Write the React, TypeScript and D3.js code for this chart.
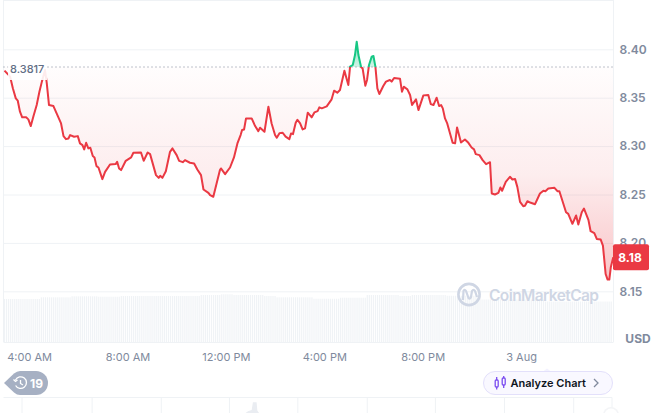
import React, { useEffect, useRef } from "react";
import * as d3 from "d3";

// hours since midnight of 2 Aug
const hours = [
  3.0, 3.23, 3.34, 3.46, 3.54, 3.63, 3.72, 3.88, 3.97, 4.07, 4.18, 4.31, 4.42, 4.52, 4.65, 4.72, 4.81, 4.99, 5.12, 5.3,
  5.4, 5.5, 5.6, 5.67, 5.83, 5.98, 6.07, 6.17, 6.24, 6.32, 6.41, 6.49, 6.59, 6.66, 6.74, 6.82, 6.98, 7.09, 7.29, 7.52,
  7.58, 7.66, 7.74, 7.93, 8.15, 8.24, 8.55, 8.66, 8.82, 8.92, 9.16, 9.27, 9.33, 9.42, 9.56, 9.73, 9.83, 10.0, 10.1, 10.25,
  10.34, 10.54, 10.71, 10.84, 10.99, 11.09, 11.29, 11.36, 11.49, 11.76, 11.8, 11.97, 12.17, 12.33, 12.47, 12.6, 12.66, 12.74, 12.82, 13.05,
  13.19, 13.32, 13.39, 13.57, 13.73, 13.86, 14.0, 14.07, 14.18, 14.31, 14.43, 14.58, 14.65, 14.73, 14.84, 14.91, 15.02, 15.12, 15.22, 15.33,
  15.49, 15.6, 15.73, 15.8, 15.9, 16.1, 16.3, 16.4, 16.53, 16.64, 16.82, 16.98, 17.05, 17.16, 17.25, 17.32, 17.39, 17.5, 17.56, 17.67,
  17.74, 17.82, 17.93, 18.0, 18.08, 18.16, 18.24, 18.4, 18.51, 18.67, 18.74, 18.84, 19.08, 19.16, 19.24, 19.38, 19.49, 19.57, 19.73, 19.83,
  20.03, 20.23, 20.33, 20.44, 20.57, 20.67, 20.75, 20.82, 20.91, 21.0, 21.22, 21.32, 21.4, 21.56, 21.72, 21.86, 21.99, 22.09, 22.16, 22.31,
  22.44, 22.58, 22.74, 22.81, 22.94, 23.08, 23.16, 23.23, 23.38, 23.55, 23.65, 23.76, 23.85, 23.96, 24.09, 24.16, 24.26, 24.37, 24.57, 24.77,
  24.91, 24.99, 25.11, 25.36, 25.48, 25.56, 25.83, 25.92, 26.09, 26.24, 26.33, 26.47, 26.56, 26.74, 26.83, 26.98, 27.08, 27.24, 27.33, 27.44,
  27.52, 27.59, 27.65, 27.75,
];

const prices = [
  8.378, 8.3717, 8.3597, 8.3493, 8.3469, 8.3355, 8.3297, 8.3297, 8.3276, 8.3207, 8.331, 8.3424, 8.3562, 8.3666, 8.3786, 8.3648, 8.3424, 8.3414, 8.3338, 8.3234,
  8.3103, 8.3072, 8.3079, 8.3114, 8.3097, 8.3103, 8.3028, 8.301, 8.2966, 8.3034, 8.2976, 8.2983, 8.2897, 8.2883, 8.2793, 8.2779, 8.2659, 8.2734, 8.281, 8.2814,
  8.2838, 8.2769, 8.2752, 8.2848, 8.2883, 8.2931, 8.2934, 8.2848, 8.2934, 8.2917, 8.27, 8.2672, 8.2693, 8.2672, 8.2741, 8.2941, 8.2976, 8.2907, 8.2848, 8.2834,
  8.2855, 8.2828, 8.2821, 8.2759, 8.27, 8.2552, 8.2517, 8.2493, 8.2476, 8.2752, 8.2769, 8.271, 8.2779, 8.2883, 8.3028, 8.3114, 8.3166, 8.3172, 8.3286, 8.3286,
  8.3207, 8.3155, 8.319, 8.3148, 8.3407, 8.3234, 8.3114, 8.3086, 8.3134, 8.3138, 8.3097, 8.3072, 8.3131, 8.3124, 8.3241, 8.3272, 8.3234, 8.3172, 8.3183, 8.3345,
  8.3297, 8.3348, 8.3362, 8.34, 8.339, 8.341, 8.3483, 8.3572, 8.3552, 8.3579, 8.3779, 8.3631, 8.3821, 8.3838, 8.3941, 8.4079, 8.3941, 8.3814, 8.3803, 8.3624,
  8.3683, 8.3838, 8.3924, 8.3931, 8.3821, 8.3597, 8.3538, 8.3621, 8.3666, 8.3683, 8.3666, 8.3703, 8.3697, 8.3562, 8.3614, 8.3586, 8.3528, 8.3424, 8.3483, 8.3372,
  8.3524, 8.3528, 8.3434, 8.3424, 8.35, 8.3414, 8.3424, 8.339, 8.3286, 8.3234, 8.3034, 8.3028, 8.3193, 8.3038, 8.3069, 8.3034, 8.2986, 8.2966, 8.2917, 8.2907,
  8.2855, 8.2814, 8.2834, 8.251, 8.25, 8.2517, 8.2572, 8.2538, 8.2631, 8.2683, 8.2655, 8.2659, 8.2579, 8.2424, 8.2379, 8.2383, 8.2431, 8.2417, 8.24, 8.251,
  8.2538, 8.2534, 8.2562, 8.2569, 8.2534, 8.2534, 8.2317, 8.23, 8.2197, 8.2283, 8.219, 8.2317, 8.2355, 8.2238, 8.2121, 8.21, 8.2041, 8.2034, 8.1972, 8.1679,
  8.1621, 8.1621, 8.1748, 8.1852,
];

// one bar every five minutes, from the first price on
const volumes = [
  43, 43, 43, 43, 43, 43, 43, 43, 43, 43, 43, 43,
  43, 43, 43, 43, 43, 43, 44.7, 44.7, 44.7, 44.7, 44.7, 44.7,
  44.7, 44.7, 44.7, 44.7, 44.7, 44.7, 44.7, 44.7, 44.7, 45.7, 45.7, 45.7,
  45.7, 45.7, 45.7, 45.7, 45.7, 45.7, 45.7, 45.7, 45.7, 45.7, 45.3, 45.3,
  45.3, 45.3, 45.3, 45.3, 45.3, 45.3, 45.3, 45.3, 45.3, 46, 46, 46,
  46, 46, 46, 46, 46, 46, 46, 46, 46, 46, 46, 46,
  46, 46, 46, 46, 46, 46, 46, 46, 46, 46, 46, 46,
  46, 46, 46, 46, 46, 46, 46, 46, 46, 46, 46, 46,
  47, 47, 47, 47, 47, 47, 47, 47, 47, 47, 47.7, 47.7,
  47.7, 47.7, 47.7, 47.7, 47, 47, 47, 47, 47, 47, 47, 47,
  47, 47, 47, 47, 47, 47, 47, 46, 46, 46, 46, 46,
  46, 44.7, 44.7, 44.7, 44.7, 44.7, 44.7, 44.7, 44.7, 44.7, 44.7, 44.7,
  44.7, 44.7, 44.7, 44.7, 44.7, 44.7, 44.7, 43.3, 43.3, 43.3, 43.3, 43.3,
  43.3, 43.3, 43.3, 43.3, 43.3, 43.3, 43.3, 43.3, 44.3, 44.3, 44.3, 44.3,
  44.3, 44.3, 44.3, 44.3, 44.3, 44.3, 44.3, 44.3, 44.3, 47, 47, 47,
  47, 47, 47, 47, 47, 47, 47, 47, 47, 47, 47, 47,
  47, 46, 46, 46, 46, 46, 46, 47, 47, 47, 47, 47,
  47, 47, 47, 47, 47, 47, 47, 47, 47, 47, 47, 47,
  46.3, 46.3, 46.3, 46.3, 46.3, 46.3, 46.3, 46.3, 46.3, 46.3, 46.3, 46.3,
  46.3, 46.3, 46.3, 46.3, 46.3, 42.5, 42.5, 42.5, 42.5, 42.5, 42.5, 42.5,
  42.5, 42.5, 42.5, 42.5, 42.5, 42.5, 42.5, 42.5, 42.5, 42.5, 42.5, 42.5,
  42.5, 42.5, 42.5, 42.5, 42.5, 42.5, 42.5, 42.5, 42.5, 42.5, 42.5, 42.5,
  40.5, 40.5, 40.5, 40.5, 40.5, 40.5, 40.5, 40.5, 40.5, 40.5, 40.5, 40.5,
  40.5, 40.5, 40.5, 40.5, 40.5, 40.5, 40.5, 40.5, 40.5, 40.5, 40.5, 40.5,
  40.5, 40.5, 40.5, 40.5, 40.5, 40.5, 40.5, 40.5, 40.5,
];

const priceTicks = [8.15, 8.2, 8.25, 8.3, 8.35, 8.4];
const hourTicks = [4, 8, 12, 16, 20, 24];
const hourLabels = ["4:00 AM", "8:00 AM", "12:00 PM", "4:00 PM", "8:00 PM", "3 Aug"];
const basePrice = 8.3817;
const lastPriceLabel = "8.18";

// strip under the chart
const navigatorHours = [12.8, 12.9, 13.05, 13.1, 13.25, 13.28, 13.35];
const navigatorValues = [0, 3, 5, 18, 18, 4, 0];
const navigatorTicks = [3.76, 6.6, 9.4, 12.16, 14.93, 17.74, 20.5, 23.3, 26.1, 28.9, 31.7];

const GRID = "#eff2f5";
const MUTED = "#808a9d";
const RED = "#ea3943";
const GREEN = "#16c784";
const FONT = "Inter, 'Noto Sans', sans-serif";

const width = 663;
const height = 413;
const left = 3.5;
const right = 613.5;
const volBottom = 342;

export default function App() {
  const svgRef = useRef<SVGSVGElement | null>(null);

  useEffect(() => {
    if (!svgRef.current) return;
    const svg = d3.select(svgRef.current);
    svg.selectAll("*").remove();

    const x = d3.scaleLinear().domain([2.96, 27.76]).range([left, right]);
    const y = d3.scaleLinear().domain([8.15, 8.4]).range([291.3, 49.3]);
    const vol = d3.scaleLinear().domain([0, 50]).range([volBottom, volBottom - 50]);
    const baseY = y(basePrice);
    const lastY = y(prices[prices.length - 1]);
    const data = hours.map((h, i) => ({ h, p: prices[i] }));

    const defs = svg.append("defs");
    const red = defs
      .append("linearGradient")
      .attr("id", "redFill")
      .attr("gradientUnits", "userSpaceOnUse")
      .attr("x1", 0)
      .attr("x2", 0)
      .attr("y1", baseY)
      .attr("y2", y(8.16));
    red.append("stop").attr("offset", 0).attr("stop-color", RED).attr("stop-opacity", 0.01);
    red.append("stop").attr("offset", 0.5).attr("stop-color", RED).attr("stop-opacity", 0.09);
    red.append("stop").attr("offset", 1).attr("stop-color", RED).attr("stop-opacity", 0.3);
    const green = defs
      .append("linearGradient")
      .attr("id", "greenFill")
      .attr("gradientUnits", "userSpaceOnUse")
      .attr("x1", 0)
      .attr("x2", 0)
      .attr("y1", y(8.41))
      .attr("y2", baseY);
    green.append("stop").attr("offset", 0).attr("stop-color", GREEN).attr("stop-opacity", 0.5);
    green.append("stop").attr("offset", 1).attr("stop-color", GREEN).attr("stop-opacity", 0.2);
    defs
      .append("clipPath")
      .attr("id", "above")
      .append("rect")
      .attr("x", left)
      .attr("y", 0)
      .attr("width", right - left)
      .attr("height", baseY);
    defs
      .append("clipPath")
      .attr("id", "below")
      .append("rect")
      .attr("x", left)
      .attr("y", baseY)
      .attr("width", right - left)
      .attr("height", volBottom - baseY);

    // Gridlines
    const yGrid = d3
      .axisLeft(y)
      .tickValues(priceTicks)
      .tickSize(-(right - left))
      .tickFormat(() => "");
    const gridG = svg.append("g").attr("transform", `translate(${left},0)`).call(yGrid);
    gridG.select(".domain").remove();
    gridG.selectAll("line").style("stroke", GRID);

    // Frame
    const frame = svg.append("g").attr("stroke", GRID).attr("fill", "none");
    frame.append("line").attr("x1", left).attr("x2", left).attr("y1", 0).attr("y2", volBottom);
    frame.append("line").attr("x1", right).attr("x2", right).attr("y1", 0).attr("y2", volBottom);
    frame.append("line").attr("x1", left).attr("x2", right).attr("y1", 0.5).attr("y2", 0.5);
    frame.append("line").attr("x1", left).attr("x2", right).attr("y1", volBottom + 0.5).attr("y2", volBottom + 0.5);

    // Volume bars
    svg
      .append("g")
      .selectAll("rect")
      .data(volumes)
      .enter()
      .append("rect")
      .attr("x", (_, i) => x(hours[0] + i / 12) - 0.6)
      .attr("y", (d) => vol(d))
      .attr("width", 1.2)
      .attr("height", (d) => volBottom - vol(d))
      .attr("fill", "#f0f3f6");

    // Watermark
    const mark = svg.append("g").attr("fill", "none").attr("stroke", "#cfd6e4").attr("stroke-width", 2.6);
    mark.append("circle").attr("cx", 469).attr("cy", 294.5).attr("r", 10.6);
    mark
      .append("path")
      .attr("d", "M463 300 L463.5 291 Q464.5 288.5 466 291 L468.5 298 Q470 299.5 471 297 L472 291 Q473.5 288.5 475 291 L477 297")
      .attr("stroke-width", 2.2);
    svg
      .append("text")
      .attr("x", 489)
      .attr("y", 300.5)
      .attr("font-family", FONT)
      .attr("font-size", 15.5)
      .attr("font-weight", 600)
      .attr("fill", "#cfd6e4")
      .attr("textLength", 110)
      .text("CoinMarketCap");

    // Fills
    const area = d3
      .area<{ h: number; p: number }>()
      .x((d) => x(d.h))
      .y0(baseY)
      .y1((d) => y(d.p));
    svg.append("path").datum(data).attr("d", area).attr("fill", "url(#redFill)").attr("clip-path", "url(#below)");
    svg.append("path").datum(data).attr("d", area).attr("fill", "url(#greenFill)").attr("clip-path", "url(#above)");

    // Price line
    const line = d3
      .line<{ h: number; p: number }>()
      .x((d) => x(d.h))
      .y((d) => y(d.p));
    svg
      .append("path")
      .datum(data)
      .attr("d", line)
      .attr("fill", "none")
      .attr("stroke", RED)
      .attr("stroke-width", 2)
      .attr("stroke-linejoin", "round")
      .attr("clip-path", "url(#below)");
    svg
      .append("path")
      .datum(data)
      .attr("d", line)
      .attr("fill", "none")
      .attr("stroke", GREEN)
      .attr("stroke-width", 2)
      .attr("stroke-linejoin", "round")
      .attr("clip-path", "url(#above)");

    // Dotted baseline with its label
    svg
      .append("line")
      .attr("x1", left)
      .attr("x2", right)
      .attr("y1", baseY)
      .attr("y2", baseY)
      .attr("stroke", "#7c8698")
      .attr("stroke-dasharray", "1 3");
    svg
      .append("rect")
      .attr("x", 8)
      .attr("y", baseY - 4)
      .attr("width", 39)
      .attr("height", 17)
      .attr("fill", "#fff")
      .attr("fill-opacity", 0.9);
    svg
      .append("text")
      .attr("x", 10)
      .attr("y", baseY + 6)
      .attr("font-family", FONT)
      .attr("font-size", 11)
      .attr("font-weight", 500)
      .attr("fill", "#616e85")
      .text(basePrice.toFixed(4));

    // Axes
    const yAxis = d3
      .axisRight(y)
      .tickValues(priceTicks)
      .tickSize(0)
      .tickPadding(6)
      .tickFormat((d) => (d as number).toFixed(2));
    const yG = svg.append("g").attr("transform", `translate(${right},0)`).call(yAxis);
    yG.select(".domain").remove();
    yG.selectAll("text")
      .style("font-family", FONT)
      .style("font-size", "12px")
      .style("font-weight", "600")
      .style("fill", MUTED);

    const xAxis = d3
      .axisBottom(x)
      .tickValues(hourTicks)
      .tickSize(0)
      .tickPadding(11)
      .tickFormat((_, i) => hourLabels[i]);
    const xG = svg.append("g").attr("transform", `translate(0,${volBottom})`).call(xAxis);
    xG.select(".domain").remove();
    xG.selectAll("text")
      .style("font-family", FONT)
      .style("font-size", "11px")
      .style("font-weight", "400")
      .style("fill", MUTED);

    svg
      .append("text")
      .attr("x", 638)
      .attr("y", 343)
      .attr("text-anchor", "middle")
      .attr("font-family", FONT)
      .attr("font-size", 12)
      .attr("font-weight", 700)
      .attr("fill", MUTED)
      .text("USD");

    // Last price tag
    svg
      .append("rect")
      .attr("x", 613)
      .attr("y", lastY - 13)
      .attr("width", 36)
      .attr("height", 26)
      .attr("rx", 2)
      .attr("fill", RED);
    svg
      .append("text")
      .attr("x", 630)
      .attr("y", lastY + 4.5)
      .attr("text-anchor", "middle")
      .attr("font-family", FONT)
      .attr("font-size", 12)
      .attr("font-weight", 700)
      .attr("fill", "#fff")
      .text(lastPriceLabel);

    // History badge
    svg.append("path").attr("d", "M4 383 L14 373.5 Q17 371 20 371 H36 A12 12 0 0 1 36 395 H20 Q17 395 14 392.5 Z").attr("fill", "#a6b0c3");
    const clock = svg.append("g").attr("fill", "none").attr("stroke", "#fff").attr("stroke-width", 1.3);
    clock.append("path").attr("d", "M15.5 380 A5.8 5.8 0 1 1 15.6 385.5");
    clock.append("path").attr("d", "M20.5 380 V383.5 L23 385");
    clock.append("path").attr("d", "M13.5 379.5 L15.5 381.5 L17.5 380");
    svg
      .append("text")
      .attr("x", 30)
      .attr("y", 387.5)
      .attr("font-family", FONT)
      .attr("font-size", 12)
      .attr("font-weight", 700)
      .attr("fill", "#fff")
      .text("19");

    // Strip under the chart
    const navTick = d3.scaleLinear().domain([3.76, 31.7]).range([22, 712]);
    const navY = d3.scaleLinear().domain([0, 20]).range([413, 401]);
    const strip = svg.append("g").attr("stroke", GRID);
    strip.append("line").attr("x1", left).attr("x2", 612).attr("y1", 397.5).attr("y2", 397.5);
    strip
      .selectAll("line.tick")
      .data(navigatorTicks.filter((d) => navTick(d) <= 612.5))
      .enter()
      .append("line")
      .attr("class", "tick")
      .attr("x1", (d) => navTick(d))
      .attr("x2", (d) => navTick(d))
      .attr("y1", 397.5)
      .attr("y2", height);
    strip.append("line").attr("x1", 612).attr("x2", 612).attr("y1", 397.5).attr("y2", height);
    svg
      .append("path")
      .datum(navigatorHours.map((h, i) => [h, navigatorValues[i]] as [number, number]))
      .attr("d", d3.area<[number, number]>().x((d) => x(d[0])).y0(413).y1((d) => navY(d[1])))
      .attr("fill", "#eaedf2");
    svg.append("circle").attr("cx", 611).attr("cy", 415).attr("r", 8).attr("fill", "#f4f5f7");
    svg.append("circle").attr("cx", 611).attr("cy", 415).attr("r", 6.5).attr("fill", "#fff");

    // Analyze button
    svg.append("path").attr("d", "M543 371.5 L547 368.5 L551 371.5 Z").attr("fill", "#f3f2ff");
    svg
      .append("rect")
      .attr("x", 483.5)
      .attr("y", 371.5)
      .attr("width", 129)
      .attr("height", 23)
      .attr("rx", 11.5)
      .attr("fill", "#f9f8ff")
      .attr("stroke", "#e3e0fb");
    const candle = svg.append("g").attr("fill", "none").attr("stroke", "#7b4df0").attr("stroke-width", 1.3);
    candle.append("rect").attr("x", 495.2).attr("y", 380).attr("width", 3).attr("height", 7).attr("rx", 1);
    candle.append("rect").attr("x", 502.2).attr("y", 378).attr("width", 3).attr("height", 7).attr("rx", 1);
    candle.append("path").attr("d", "M496.7 377 V380 M496.7 387 V389.5 M503.7 376 V378 M503.7 385 V388");
    svg
      .append("text")
      .attr("x", 510.5)
      .attr("y", 387)
      .attr("font-family", FONT)
      .attr("font-size", 11)
      .attr("font-weight", 600)
      .attr("fill", "#0d1421")
      .text("Analyze Chart");
    svg
      .append("path")
      .attr("d", "M594 379 L598 383 L594 387")
      .attr("fill", "none")
      .attr("stroke", "#808a9d")
      .attr("stroke-width", 1.3);
  }, []);

  return <svg ref={svgRef} width={width} height={height} style={{ position: "absolute", left: 0, top: 0 }}></svg>;
}
